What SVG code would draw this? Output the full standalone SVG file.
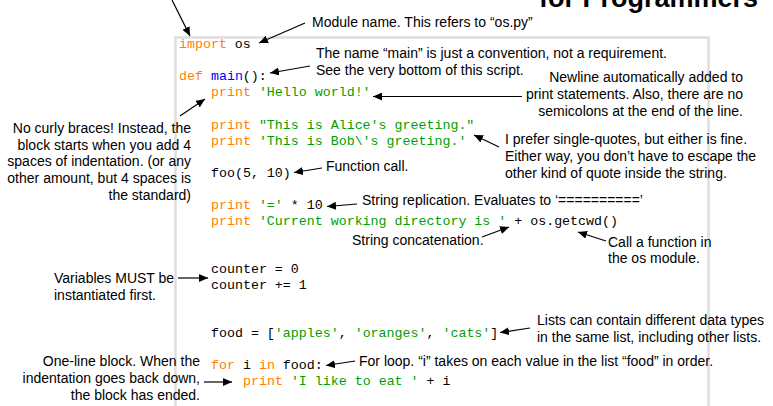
<svg xmlns="http://www.w3.org/2000/svg" width="773" height="406" viewBox="0 0 773 406">
<style>
.code{font-family:"Liberation Mono","Courier New",monospace;font-size:13.3px;fill:#000;white-space:pre}
.kw{fill:#ff8000}
.fn{fill:#0000ff}
.str{fill:#00a000}
.note{font-family:"Liberation Sans",Arial,sans-serif;font-size:14px;fill:#000}
.r{text-anchor:end}
.title{font-family:"Liberation Sans",Arial,sans-serif;font-size:27px;font-weight:bold;fill:#000}
.conn line{stroke:#000;stroke-width:1.2;marker-end:url(#arr)}
</style>
<defs>
<marker id="arr" markerUnits="userSpaceOnUse" markerWidth="10" markerHeight="8" refX="9" refY="4" orient="auto"><path d="M0,0 L9,4 L0,8 z" fill="#000"/></marker>
</defs>
<rect width="773" height="406" fill="#fff"/>
<g id="title"><text class="title" x="539" y="7">for Programmers</text></g>
<g id="codebox">
<rect x="175.5" y="37.5" width="533" height="390" fill="#fff" stroke="#dedede" stroke-width="2.5"/>
<text class="code" xml:space="preserve" x="179" y="48"><tspan class="kw">import</tspan> os</text>
<text class="code" xml:space="preserve" x="179" y="80"><tspan class="kw">def</tspan> <tspan class="fn">main</tspan>():</text>
<text class="code" xml:space="preserve" x="211" y="96"><tspan class="kw">print</tspan> <tspan class="str">'Hello world!'</tspan></text>
<text class="code" xml:space="preserve" x="211" y="129"><tspan class="kw">print</tspan> <tspan class="str">"This is Alice's greeting."</tspan></text>
<text class="code" xml:space="preserve" x="211" y="145"><tspan class="kw">print</tspan> <tspan class="str">'This is Bob\'s greeting.'</tspan></text>
<text class="code" xml:space="preserve" x="211" y="177">foo(5, 10)</text>
<text class="code" xml:space="preserve" x="211" y="209"><tspan class="kw">print</tspan> <tspan class="str">'='</tspan> * 10</text>
<text class="code" xml:space="preserve" x="211" y="225"><tspan class="kw">print</tspan> <tspan class="str">'Current working directory is '</tspan> + os.getcwd()</text>
<text class="code" xml:space="preserve" x="211" y="273">counter = 0</text>
<text class="code" xml:space="preserve" x="211" y="289">counter += 1</text>
<text class="code" xml:space="preserve" x="211" y="337">food = [<tspan class="str">'apples'</tspan>, <tspan class="str">'oranges'</tspan>, <tspan class="str">'cats'</tspan>]</text>
<text class="code" xml:space="preserve" x="211" y="369"><tspan class="kw">for</tspan> i <tspan class="kw">in</tspan> food:</text>
<text class="code" xml:space="preserve" x="243" y="385"><tspan class="kw">print</tspan> <tspan class="str">'I like to eat '</tspan> + i</text>
</g>
<g id="note-module"><text class="note" x="312" y="27">Module name. This refers to “os.py”</text></g>
<g id="note-main"><text class="note" x="316" y="58">The name “main” is just a convention, not a requirement.<tspan x="316" y="75">See the very bottom of this script.</tspan></text></g>
<g id="note-newline"><text class="note r" x="743" y="82">Newline automatically added to<tspan x="743" y="99">print statements. Also, there are no</tspan><tspan x="743" y="116">semicolons at the end of the line.</tspan></text></g>
<g id="note-braces"><text class="note r" x="191" y="133">No curly braces! Instead, the<tspan x="191" y="150">block starts when you add 4</tspan><tspan x="191" y="166">spaces of indentation. (or any</tspan><tspan x="191" y="183">other amount, but 4 spaces is</tspan><tspan x="191" y="200">the standard)</tspan></text></g>
<g id="note-quotes"><text class="note" x="505" y="144">I prefer single-quotes, but either is fine.<tspan x="505" y="161">Either way, you don’t have to escape the</tspan><tspan x="505" y="178">other kind of quote inside the string.</tspan></text></g>
<g id="note-call"><text class="note" x="326" y="171">Function call.</text></g>
<g id="note-replication"><text class="note" x="362" y="205">String replication. Evaluates to ‘==========’</text></g>
<g id="note-concat"><text class="note" x="352" y="245">String concatenation.</text></g>
<g id="note-osfunc"><text class="note" x="608" y="247">Call a function in<tspan x="608" y="263">the os module.</tspan></text></g>
<g id="note-vars"><text class="note" x="54" y="283">Variables MUST be<tspan x="54" y="300">instantiated first.</tspan></text></g>
<g id="note-lists"><text class="note" x="537" y="325">Lists can contain different data types<tspan x="537" y="342">in the same list, including other lists.</tspan></text></g>
<g id="note-for"><text class="note" x="359" y="366">For loop. “i” takes on each value in the list “food” in order.</text></g>
<g id="note-block"><text class="note r" x="200" y="366">One-line block. When the<tspan x="200" y="383">indentation goes back down,</tspan><tspan x="200" y="400">the block has ended.</tspan></text></g>
<g id="connectors" class="conn">
<line x1="172" y1="0" x2="190" y2="36"/>
<line x1="305" y1="23" x2="259" y2="43"/>
<line x1="310" y1="66" x2="270" y2="73"/>
<line x1="522" y1="96.5" x2="373" y2="96.5"/>
<line x1="180" y1="116" x2="205" y2="99"/>
<line x1="499" y1="147" x2="474" y2="135"/>
<line x1="322" y1="168" x2="294" y2="172.5"/>
<line x1="357" y1="204" x2="327" y2="206.5"/>
<line x1="482" y1="237" x2="509" y2="227"/>
<line x1="606" y1="241" x2="578" y2="232"/>
<line x1="178" y1="278" x2="208" y2="278"/>
<line x1="530" y1="328" x2="500" y2="332.5"/>
<line x1="355" y1="361" x2="326" y2="365.5"/>
<line x1="204" y1="382" x2="232" y2="382"/>
</g>
</svg>
